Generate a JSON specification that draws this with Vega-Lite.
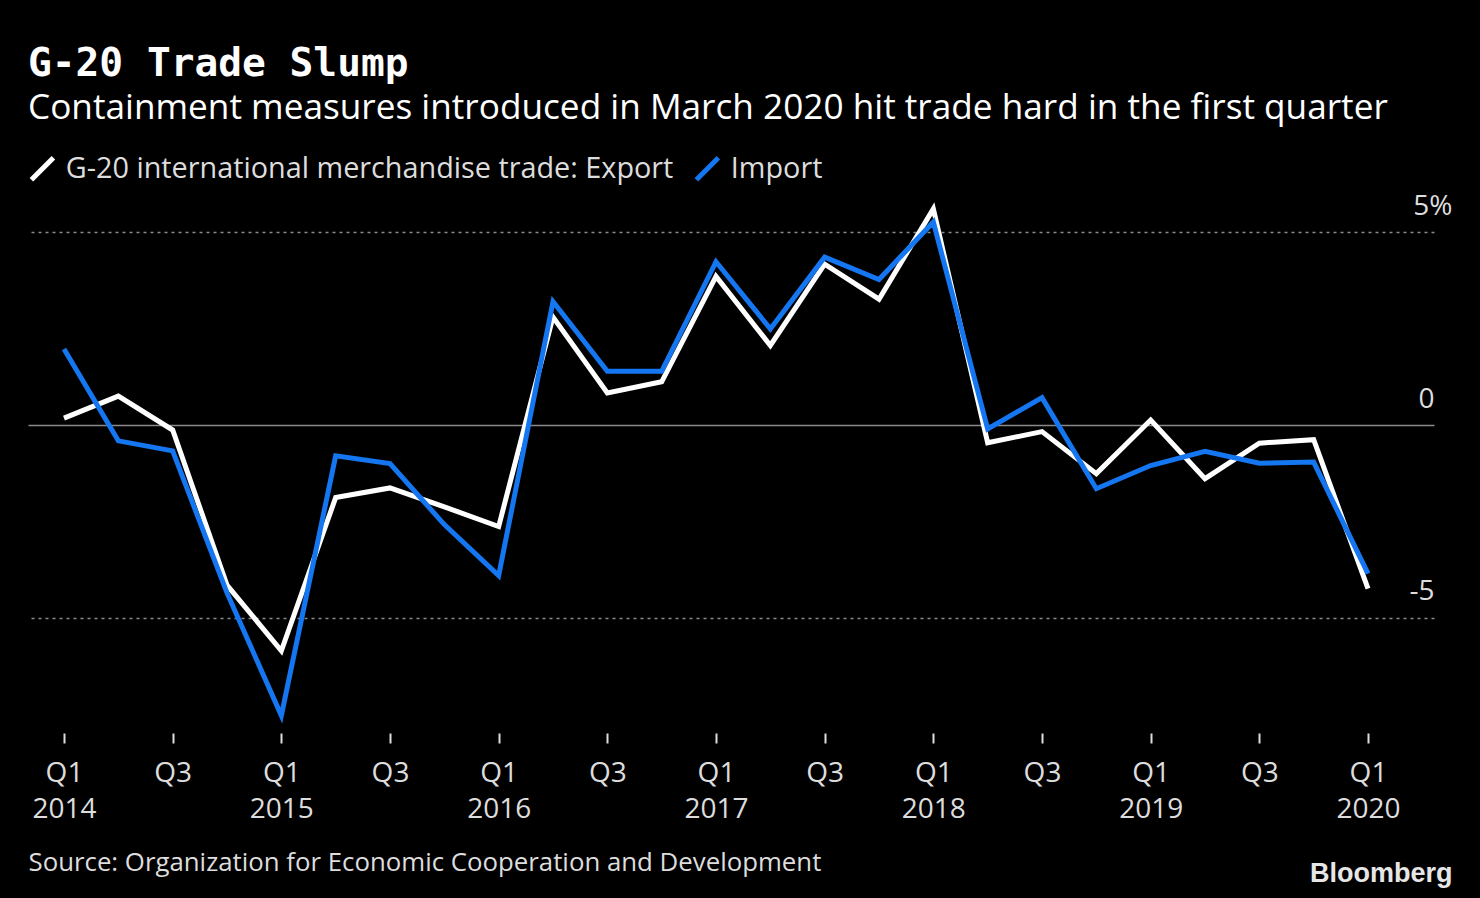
{
  "$schema": "https://vega.github.io/schema/vega-lite/v6.json",
  "autosize": {"type": "none"},
  "width": 1406,
  "height": 533,
  "padding": {"left": 28, "top": 200, "right": 46, "bottom": 165},
  "background": "#000000",
  "title": {
    "text": "G-20 Trade Slump",
    "subtitle": "Containment measures introduced in March 2020 hit trade hard in the first quarter",
    "anchor": "start",
    "frame": "group",
    "font": "DejaVu Sans Mono",
    "fontWeight": "bold",
    "fontSize": 39.5,
    "color": "#ffffff",
    "subtitleFont": "Open Sans",
    "subtitleFontSize": 35.2,
    "subtitleColor": "#ffffff",
    "subtitlePadding": 6,
    "offset": 27
  },
  "config": {
    "view": {"stroke": null},
    "legend": {"labelFont": "Open Sans", "labelFontSize": 28.8, "labelColor": "#dddddd", "labelLimit": 0}
  },
  "data": {
    "values": [
      {"quarter": "2014 Q1", "series": "Export", "value": 0.18},
      {"quarter": "2014 Q2", "series": "Export", "value": 0.75},
      {"quarter": "2014 Q3", "series": "Export", "value": -0.13},
      {"quarter": "2014 Q4", "series": "Export", "value": -4.15},
      {"quarter": "2015 Q1", "series": "Export", "value": -5.85},
      {"quarter": "2015 Q2", "series": "Export", "value": -1.88},
      {"quarter": "2015 Q3", "series": "Export", "value": -1.63},
      {"quarter": "2015 Q4", "series": "Export", "value": -2.12},
      {"quarter": "2016 Q1", "series": "Export", "value": -2.63},
      {"quarter": "2016 Q2", "series": "Export", "value": 2.8},
      {"quarter": "2016 Q3", "series": "Export", "value": 0.83},
      {"quarter": "2016 Q4", "series": "Export", "value": 1.12},
      {"quarter": "2017 Q1", "series": "Export", "value": 3.85},
      {"quarter": "2017 Q2", "series": "Export", "value": 2.06},
      {"quarter": "2017 Q3", "series": "Export", "value": 4.17},
      {"quarter": "2017 Q4", "series": "Export", "value": 3.26},
      {"quarter": "2018 Q1", "series": "Export", "value": 5.6},
      {"quarter": "2018 Q2", "series": "Export", "value": -0.46},
      {"quarter": "2018 Q3", "series": "Export", "value": -0.17},
      {"quarter": "2018 Q4", "series": "Export", "value": -1.26},
      {"quarter": "2019 Q1", "series": "Export", "value": 0.13},
      {"quarter": "2019 Q2", "series": "Export", "value": -1.39},
      {"quarter": "2019 Q3", "series": "Export", "value": -0.47},
      {"quarter": "2019 Q4", "series": "Export", "value": -0.38},
      {"quarter": "2020 Q1", "series": "Export", "value": -4.24},
      {"quarter": "2014 Q1", "series": "Import", "value": 1.97},
      {"quarter": "2014 Q2", "series": "Import", "value": -0.41},
      {"quarter": "2014 Q3", "series": "Import", "value": -0.67},
      {"quarter": "2014 Q4", "series": "Import", "value": -4.35},
      {"quarter": "2015 Q1", "series": "Import", "value": -7.53},
      {"quarter": "2015 Q2", "series": "Import", "value": -0.8},
      {"quarter": "2015 Q3", "series": "Import", "value": -1.0},
      {"quarter": "2015 Q4", "series": "Import", "value": -2.58},
      {"quarter": "2016 Q1", "series": "Import", "value": -3.9},
      {"quarter": "2016 Q2", "series": "Import", "value": 3.2},
      {"quarter": "2016 Q3", "series": "Import", "value": 1.39},
      {"quarter": "2016 Q4", "series": "Import", "value": 1.39},
      {"quarter": "2017 Q1", "series": "Import", "value": 4.23},
      {"quarter": "2017 Q2", "series": "Import", "value": 2.49},
      {"quarter": "2017 Q3", "series": "Import", "value": 4.35},
      {"quarter": "2017 Q4", "series": "Import", "value": 3.77},
      {"quarter": "2018 Q1", "series": "Import", "value": 5.26},
      {"quarter": "2018 Q2", "series": "Import", "value": -0.1},
      {"quarter": "2018 Q3", "series": "Import", "value": 0.71},
      {"quarter": "2018 Q4", "series": "Import", "value": -1.65},
      {"quarter": "2019 Q1", "series": "Import", "value": -1.05},
      {"quarter": "2019 Q2", "series": "Import", "value": -0.68},
      {"quarter": "2019 Q3", "series": "Import", "value": -0.99},
      {"quarter": "2019 Q4", "series": "Import", "value": -0.96},
      {"quarter": "2020 Q1", "series": "Import", "value": -3.85}
    ]
  },
  "mark": {"type": "line", "strokeWidth": 5, "strokeJoin": "miter", "strokeCap": "butt"},
  "encoding": {
    "x": {
      "field": "quarter",
      "type": "ordinal",
      "scale": {"type": "point", "padding": 0.9387, "align": 0.353},
      "axis": {
        "values": ["2014 Q1","2014 Q3","2015 Q1","2015 Q3","2016 Q1","2016 Q3","2017 Q1","2017 Q3","2018 Q1","2018 Q3","2019 Q1","2019 Q3","2020 Q1"],
        "labelExpr": "slice(datum.value, 5) == 'Q1' ? ['Q1', slice(datum.value, 0, 4)] : slice(datum.value, 5)",
        "labelAngle": 0,
        "labelFont": "Open Sans",
        "labelFontSize": 28,
        "labelColor": "#dddddd",
        "labelLineHeight": 36,
        "labelPadding": 16,
        "labelBaseline": "top",
        "domain": false,
        "ticks": true,
        "tickSize": 10,
        "tickWidth": 2,
        "tickColor": "#dddddd",
        "grid": false,
        "title": "Source: Organization for Economic Cooperation and Development",
        "titleFont": "Open Sans",
        "titleFontSize": 25.8,
        "titleFontWeight": "normal",
        "titleColor": "#dddddd",
        "titleAnchor": "start",
        "titleAlign": "left",
        "titleBaseline": "alphabetic",
        "titleX": 0,
        "titleY": 137
      }
    },
    "y": {
      "field": "value",
      "type": "quantitative",
      "scale": {"domain": [-7.98, 5.83], "nice": false, "zero": false},
      "axis": {
        "orient": "right",
        "values": [-5, 0, 5],
        "labelExpr": "datum.value === 5 ? '5%' : '' + datum.value",
        "labelFont": "Open Sans",
        "labelFontSize": 28,
        "labelColor": "#dddddd",
        "labelAlign": "right",
        "labelBaseline": "alphabetic",
        "labelOffset": -18,
        "labelPadding": {"condition": {"test": "datum.value === 5", "value": 18}, "value": 0},
        "ticks": false,
        "domain": false,
        "grid": true,
        "gridColor": "#8a8a8a",
        "gridWidth": 1.5,
        "gridDash": {"condition": {"test": "datum.value === 0", "value": [1, 0]}, "value": [3, 4]},
        "title": "Bloomberg",
        "titleFont": "Liberation Sans",
        "titleFontWeight": "bold",
        "titleFontSize": 27,
        "titleColor": "#e6e6e6",
        "titleAngle": 0,
        "titleAlign": "right",
        "titleBaseline": "alphabetic",
        "titleX": 18,
        "titleY": 681
      }
    },
    "color": {
      "field": "series",
      "type": "nominal",
      "scale": {"domain": ["Export", "Import"], "range": ["#ffffff", "#1476f0"]},
      "legend": {
        "orient": "none",
        "legendX": 0,
        "legendY": -46,
        "direction": "horizontal",
        "title": null,
        "labelExpr": "datum.value == 'Export' ? 'G-20 international merchandise trade: Export' : 'Import'",
        "symbolType": "M-1,1L1,-1",
        "symbolSize": 484,
        "symbolStrokeWidth": 5,
        "labelOffset": 9,
        "columnPadding": 12
      }
    }
  }
}
